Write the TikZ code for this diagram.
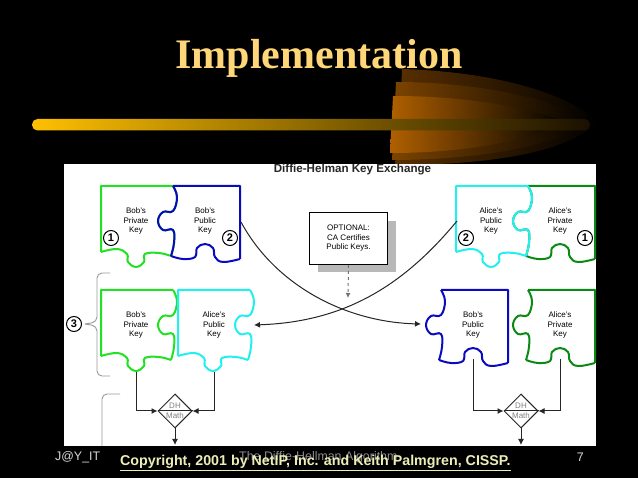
\documentclass[tikz,border=0pt]{standalone}
\usepackage{fontspec}
\setmainfont{Liberation Sans}
\newfontfamily\titlefont{Liberation Serif}
\usetikzlibrary{shapes.geometric,arrows.meta}
\definecolor{titlecol}{HTML}{FFD778}
\definecolor{fgreen}{HTML}{22E022}
\definecolor{dgreen}{HTML}{0A8A14}
\definecolor{fblue}{HTML}{0A0ABE}
\definecolor{fcyan}{HTML}{22F0F0}
\definecolor{copycol}{HTML}{EDEDB8}
\definecolor{flareA}{HTML}{5A3000}
\definecolor{flareB}{HTML}{7D4400}
\definecolor{flareC}{HTML}{B06000}
\definecolor{barA}{HTML}{FFC000}
\definecolor{barB}{HTML}{785A00}
\definecolor{barC}{HTML}{1A1000}
\tikzset{
 keytext/.style={font=\fontsize{8}{9.5}\selectfont,align=center,text=black,inner sep=0},
 numcirc/.style={circle,draw=black,line width=1pt,minimum size=15pt,inner sep=0,font=\fontsize{11}{12}\selectfont\bfseries,fill=white},
 brace/.style={draw=black!40,line width=.9pt,rounded corners=5pt},
 dh/.style={diamond,draw=black!85,line width=1pt,minimum width=34pt,minimum height=34pt,inner sep=0,fill=white},
 wire/.style={draw=black!85,line width=1pt},
 tip/.style={wire,-{Latex[length=6pt,width=6pt]}},
 foot/.style={font=\fontsize{12.4}{14}\selectfont,inner sep=0}
}
\newcommand\pieceA[3]{\draw[line width=2pt,color=#3,line join=round,shift={(#1,#2)}]
 (0,66)--(0,0)--(72,0)
 plot[smooth,tension=.7] coordinates {(72,0)(76,11)(72,25)(62,26)(57,35)(62,44)(72,44)(73,57)(70,70)}
 plot[smooth,tension=.7] coordinates {(70,70)(58,67)(44,68)(43,76)(35,81)(27,76)(26,68)(16,63)(0,66)};}
\newcommand\pieceB[3]{\draw[line width=2pt,color=#3,line join=round,shift={(#1,#2)}]
 (0,0)--(67,0)--(67,73)
 plot[smooth,tension=.7] coordinates {(67,73)(50,76)(42,71)(40,62)(32,58)(24,62)(22,71)(10,73)(-2,70)}
 plot[smooth,tension=.7] coordinates {(-2,70)(1,57)(0,44)(-10,44)(-15,35)(-10,26)(0,25)(4,11)(0,0)};}
\begin{document}
\begin{tikzpicture}[x=1pt,y=-1pt]
\useasboundingbox (0,0) rectangle (638,478);
\fill[black] (0,0) rectangle (638,478);
% flare
\shade[left color=flareA,right color=black]
 (402,69) .. controls (500,72) and (570,95) .. (598,122) .. controls (570,150) and (500,165) .. (395,165) -- (400,120) -- cycle;
\shade[left color=flareB,right color=black]
 (396,82) .. controls (480,82) and (560,100) .. (590,122) .. controls (560,145) and (480,160) .. (392,160) -- cycle;
\shade[left color=flareC,right color=black]
 (393,96) .. controls (470,96) and (530,108) .. (565,122) .. controls (530,140) and (470,153) .. (390,153) -- cycle;
% bar
\shade[left color=barA,middle color=barB,right color=barC,rounded corners=5.5pt]
 (32,119) rectangle (590,130.5);
\node[font=\titlefont\bfseries\fontsize{42}{48}\selectfont,text=titlecol,inner sep=0,anchor=base] (title) at (319,69) {Implementation};
% panel
\fill[white] (64,164) rectangle (596,446);
\node[font=\fontsize{11.6}{13}\selectfont\bfseries,inner sep=0,text=black!85] (head) at (352.5,170) {Diffie-Helman Key Exchange};
% pieces
\pieceA{101}{186}{fgreen}
\pieceB{173}{186}{fblue}
\pieceB{528}{186}{dgreen}
\pieceA{456}{186}{fcyan}
\pieceA{101}{290}{fgreen}
\pieceA{178}{290}{fcyan}
\pieceB{441}{290}{fblue}
\pieceB{528}{290}{dgreen}
\node[keytext] (t1) at (136,221) {Bob's\\Private\\Key};
\node[keytext] (t2) at (205,221) {Bob's\\Public\\Key};
\node[keytext] (t3) at (491,221) {Alice's\\Public\\Key};
\node[keytext] (t4) at (560,221) {Alice's\\Private\\Key};
\node[keytext] (t5) at (136,325) {Bob's\\Private\\Key};
\node[keytext] (t6) at (214,325) {Alice's\\Public\\Key};
\node[keytext] (t7) at (473,325) {Bob's\\Public\\Key};
\node[keytext] (t8) at (560,325) {Alice's\\Private\\Key};
\node[numcirc] (n1) at (111,238) {1};
\node[numcirc] (n2) at (230,238) {2};
\node[numcirc] (n3) at (466,238) {2};
\node[numcirc] (n4) at (585,238) {1};
\node[numcirc] (n5) at (74,324) {3};
% braces
\draw[brace] (110,273)--(97,273)--(97,322)--(85,324);
\draw[brace] (85,324)--(97,326)--(97,376)--(110,376);
\draw[brace] (120,394)--(102,394)--(102,446);
% optional box
\fill[black!28] (318,221) rectangle (396,272);
\node[draw=black,line width=1pt,fill=white,minimum width=78pt,minimum height=52pt,inner sep=0,keytext,anchor=north west] (opt) at (309,212) {OPTIONAL:\\CA Certifies\\Public Keys.};
\coordinate (optend) at (348,298);
\draw[black!55,line width=1pt,dashed,-{Latex[length=5pt,width=5pt]}] (opt.south) -- (optend);
% exchange curves
\coordinate (bp) at (241,222);
\coordinate (ap) at (457,221);
\coordinate (bt) at (421,324);
\coordinate (at) at (254,325);
\draw[tip] (bp) .. controls (275,285) and (345,322) .. (bt);
\draw[tip] (ap) .. controls (400,290) and (340,322) .. (at);
% DH math
\node[dh] (d1) at (175,411) {};
\node[dh] (d2) at (521,411) {};
\foreach \d in {d1,d2}{
 \draw[black!85,line width=1pt] (\d.west)--(\d.east);
 \node[font=\fontsize{8}{9}\selectfont,text=black!50,inner sep=0,anchor=center] at ([yshift=5pt]\d.center) {DH};
 \node[font=\fontsize{8}{9}\selectfont,text=black!50,inner sep=0,anchor=center] at ([yshift=-4.5pt]\d.center) {Math};
}
\coordinate (k1) at (136,372);
\coordinate (k2) at (214,372);
\coordinate (k3) at (473,359);
\coordinate (k4) at (560,359);
\coordinate (e1) at (175,445);
\coordinate (e2) at (521,445);
\draw[tip] (k1) |- (d1.west);
\draw[tip] (k2) |- (d1.east);
\draw[tip] (k3) |- (d2.west);
\draw[tip] (k4) |- (d2.east);
\draw[tip] (d1.south) -- (e1);
\draw[tip] (d2.south) -- (e2);
% footer
\node[foot,text=black!15,anchor=west] (f1) at (55,457) {J@Y\_IT};
\node[foot,text=black!45,anchor=west] (f2) at (239,457) {The Diffie-Hellman Algorithm};
\node[foot,text=black!15,anchor=east] (f3) at (584,457) {7};
\node[font=\fontsize{14.25}{16}\selectfont\bfseries,text=copycol,inner sep=0,anchor=base west] (copy) at (120,465.5) {\underline{Copyright, 2001 by NetIP, Inc. and Keith Palmgren, CISSP.}};
\end{tikzpicture}
\end{document}
